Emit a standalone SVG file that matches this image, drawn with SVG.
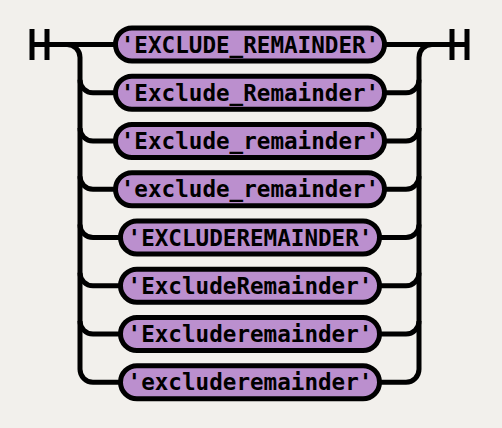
<svg xmlns="http://www.w3.org/2000/svg" width="502" height="428" viewBox="0 0 502 428">
<style>
.bg{fill:#f2f0ec}
.ln{fill:none;stroke:#000;stroke-width:5}
.pill{fill:#bb8fce;stroke:#000;stroke-width:5}
.t{font-family:"DejaVu Sans Mono",monospace;font-weight:bold;font-size:22.6px;fill:#000;text-anchor:middle}
</style>
<rect class="bg" x="0" y="0" width="502" height="428"/>
<g id="connectors">
<path class="ln" d="M32 29V60M47 29V60M467 29V60M452 29V60"/>
<path class="ln" d="M32 44.5H116M384 44.5H467"/>
<path class="ln" d="M67 44.5a13 13 0 0 1 13 13V369.25a13 13 0 0 0 13 13"/>
<path class="ln" d="M80 79.75a13 13 0 0 0 13 13H116M80 128a13 13 0 0 0 13 13H116M80 176.25a13 13 0 0 0 13 13H116M80 224.5a13 13 0 0 0 13 13H121M80 272.75a13 13 0 0 0 13 13H121M80 321a13 13 0 0 0 13 13H121M93 382.25H121"/>
<path class="ln" d="M432 44.5a13 13 0 0 0 -13 13V369.25a13 13 0 0 1 -13 13"/>
<path class="ln" d="M419 79.75a13 13 0 0 1 -13 13H384M419 128a13 13 0 0 1 -13 13H384M419 176.25a13 13 0 0 1 -13 13H384M419 224.5a13 13 0 0 1 -13 13H379M419 272.75a13 13 0 0 1 -13 13H379M419 321a13 13 0 0 1 -13 13H379M406 382.25H379"/>
</g>
<g id="n1"><rect class="pill" x="115.5" y="28" width="269" height="33" rx="16.5"/><text class="t" x="250" y="52.5">'EXCLUDE_REMAINDER'</text></g>
<g id="n2"><rect class="pill" x="115.5" y="76.25" width="269" height="33" rx="16.5"/><text class="t" x="250" y="100.75">'Exclude_Remainder'</text></g>
<g id="n3"><rect class="pill" x="115.5" y="124.5" width="269" height="33" rx="16.5"/><text class="t" x="250" y="149">'Exclude_remainder'</text></g>
<g id="n4"><rect class="pill" x="115.5" y="172.75" width="269" height="33" rx="16.5"/><text class="t" x="250" y="197.25">'exclude_remainder'</text></g>
<g id="n5"><rect class="pill" x="120.5" y="221" width="259" height="33" rx="16.5"/><text class="t" x="250" y="245.5">'EXCLUDEREMAINDER'</text></g>
<g id="n6"><rect class="pill" x="120.5" y="269.25" width="259" height="33" rx="16.5"/><text class="t" x="250" y="293.75">'ExcludeRemainder'</text></g>
<g id="n7"><rect class="pill" x="120.5" y="317.5" width="259" height="33" rx="16.5"/><text class="t" x="250" y="342">'Excluderemainder'</text></g>
<g id="n8"><rect class="pill" x="120.5" y="365.75" width="259" height="33" rx="16.5"/><text class="t" x="250" y="390.25">'excluderemainder'</text></g>
</svg>
